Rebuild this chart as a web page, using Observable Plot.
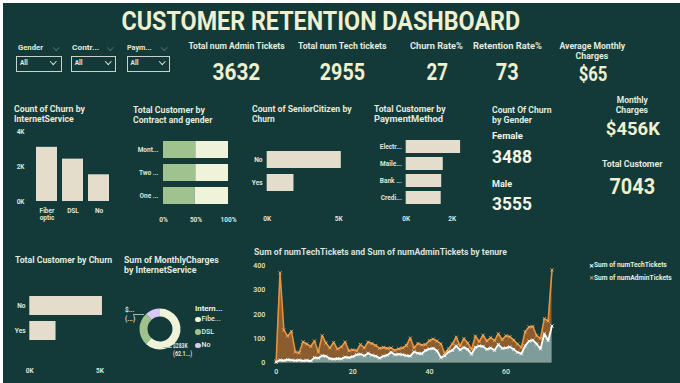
<!DOCTYPE html>
<html><head><meta charset="utf-8">
<script src="https://cdn.jsdelivr.net/npm/d3@7"></script>
<script src="https://cdn.jsdelivr.net/npm/@observablehq/plot@0.6"></script>
<style>
html,body{margin:0;padding:0;background:#fff;width:680px;height:383px;overflow:hidden}
#dash{position:absolute;left:3px;top:3px;width:677px;height:380px;background:#133a39}
#root{position:absolute;left:0;top:0;width:680px;height:383px;font-family:Roboto,"Noto Sans",sans-serif}
.t{position:absolute;white-space:nowrap;line-height:1}
.c{position:absolute}
.c svg{overflow:visible}
</style></head><body>
<div id="dash"></div><div id="root"></div>
<script>
// ---------------- DATA ----------------
const title = "CUSTOMER RETENTION DASHBOARD";
const slicerLabels = ["Gender", "Contr...", "Paym..."];
const slicerValue = "All";
const kpiLabels = ["Total num Admin Tickets", "Total num Tech tickets", "Churn Rate%", "Retention Rate%"];
const kpiValues = [3632, 2955, 27, 73];
const avgMonthlyCharges = 65;
const monthlyChargesK = 456;
const totalCustomers = 7043;
const churnGenderLabels = ["Female", "Male"];
const churnGenderValues = [3488, 3555];

const internetServices = ["Fiber optic", "DSL", "No"];
const churnCountByInternet = [3096, 2421, 1526];

const contracts = ["Month-to-month", "Two year", "One year"];
const contractTicks = ["Mont...", "Two ...", "One ..."];
const genders = ["Female", "Male"];
const contractFemale = [1925, 842, 718];
const contractMale = [1950, 853, 755];

const churnLabels = ["No", "Yes"];
const seniorCountByChurn = [5174, 1869];
const customersByChurn = [5174, 1869];

const paymentMethods = ["Electronic check", "Mailed check", "Bank transfer (automatic)", "Credit card (automatic)"];
const paymentTicks = ["Electr...", "Maile...", "Bank ...", "Credi..."];
const customersByPayment = [2365, 1612, 1544, 1522];

const monthlyByInternetK = [283, 120, 53];
const donutLegendTitle = "Intern...";
const donutLegendTicks = ["Fibe...", "DSL", "No"];
const donutLabelsFiber = ["$283K", "(62.1...)"];
const donutLabelsDSL = ["$...", "(...)"];

const tenure = [0,1,2,3,4,5,6,7,8,9,10,11,12,13,14,15,16,17,18,19,20,21,22,23,24,25,26,27,28,29,30,31,32,33,34,35,36,37,38,39,40,41,42,43,44,45,46,47,48,49,50,51,52,53,54,55,56,57,58,59,60,61,62,63,64,65,66,67,68,69,70,71,72];
const adminTickets = [8,370,135,110,130,45,42,87,78,68,90,45,112,82,62,84,57,66,86,50,54,50,76,62,86,80,72,60,64,60,62,52,58,62,72,102,62,80,74,76,92,98,90,78,40,58,78,106,70,100,82,56,110,88,114,90,104,92,120,96,112,108,94,78,64,128,148,150,112,100,182,172,382];
const techTickets = [3,12,10,14,12,10,12,9,11,8,22,20,30,28,18,16,18,17,24,22,26,34,36,30,40,32,28,20,28,32,44,34,36,34,30,28,46,40,38,52,58,60,50,22,30,46,52,70,54,64,56,36,64,70,68,56,62,52,76,60,62,66,56,44,38,70,90,94,78,58,120,92,152];
const seriesNames = ["Sum of numTechTickets", "Sum of numAdminTickets"];
const ticketChartTitle = "Sum of numTechTickets and Sum of numAdminTickets by tenure";

// ---------------- STYLE ----------------
const CREAM = "#eef0cf", LABEL = "#e3e9dc", BEIGE = "#e5ddcc", GREEN = "#9fc28f", PALE = "#eef3da", LAV = "#d8c8f2";
const ORANGE = "#e8913c", ORANGE_FILL = "#8a5c2e", TECH_FILL = "#7e9d9a";
const root = document.getElementById("root");

function txt(s, o) {
  const el = document.createElement("div");
  el.className = "t";
  el.textContent = s;
  el.style.fontSize = o.size + "px";
  el.style.fontWeight = o.weight ?? 700;
  el.style.color = o.color ?? LABEL;
  root.appendChild(el);
  const w = el.offsetWidth, h = el.offsetHeight;
  const mid = o.anchor === "middle";
  el.style.left = (mid ? o.x - w / 2 : o.x) + "px";
  el.style.top = (o.y - h / 2) + "px";
  el.style.transformOrigin = mid ? "50% 50%" : "0 50%";
  if (o.w) el.style.transform = `scaleX(${o.w / w})`;
  return el;
}
function box(l, t, w, h, css) {
  const d = document.createElement("div");
  d.className = "c";
  Object.assign(d.style, {left: l + "px", top: t + "px", width: w + "px", height: h + "px"}, css);
  root.appendChild(d);
  return d;
}
function chevron(x, y, color) {
  box(x - 2, y - 3.5, 3.5, 3.5, {borderRight: `1px solid ${color}`, borderBottom: `1px solid ${color}`, transform: "rotate(45deg)"});
}
function addPlot(plot, left, top) {
  const d = document.createElement("div");
  d.className = "c"; d.style.left = left + "px"; d.style.top = top + "px";
  d.appendChild(plot); root.appendChild(d);
}
const pstyle = {background: "transparent", color: "#dfe6d9", fontFamily: "Roboto, sans-serif", fontSize: "6.5px", fontWeight: "700", overflow: "visible"};
const fmtK = d => d / 1000 + "K";

// ---------------- HEADER ----------------
txt(title, {x: 321, y: 21.5, w: 399, size: 25, color: CREAM, anchor: "middle"});
const slX = [18.2, 71.6, 127], slW = [25.2, 27.3, 24.8], boxX = [16, 70.7, 126.6], boxW = [45.6, 45.5, 43.8];
slicerLabels.forEach((s, i) => {
  txt(s, {x: slX[i], y: 48, w: slW[i], size: 7, color: LABEL});
  chevron(boxX[i] + boxW[i] - 6, 48, "#4d6e69");
  box(boxX[i], 56, boxW[i] - 2, 13.5, {border: "1px solid #c9d2c8"});
  txt(slicerValue, {x: boxX[i] + 4, y: 63.3, w: 8, size: 6.5, color: LABEL});
  chevron(boxX[i] + boxW[i] - 8.5, 62.5, "#dfe6d9");
});
const kX = [236, 342.4, 436.8, 507.4], kLW = [96, 89, 53, 69], kVW = [48, 45.5, 21.2, 22.6];
kpiLabels.forEach((s, i) => {
  txt(s, {x: kX[i], y: 46.5, w: kLW[i], size: 8.5, color: LABEL, anchor: "middle"});
  txt(String(kpiValues[i]), {x: kX[i], y: 72, w: kVW[i], size: 23, color: CREAM, anchor: "middle"});
});
txt("Average Monthly", {x: 592.4, y: 46.5, w: 66, size: 8.5, anchor: "middle"});
txt("Charges", {x: 592.4, y: 56.5, w: 33, size: 8.5, anchor: "middle"});
txt("$" + avgMonthlyCharges, {x: 592.8, y: 74.5, w: 28.6, size: 21, color: CREAM, anchor: "middle"});

// right KPI column
txt("Monthly", {x: 632.2, y: 100.7, w: 31, size: 8.5, anchor: "middle"});
txt("Charges", {x: 632.4, y: 110.7, w: 32.7, size: 8.5, anchor: "middle"});
txt("$" + monthlyChargesK + "K", {x: 632.8, y: 128.5, w: 54.3, size: 19, color: CREAM, anchor: "middle"});
txt("Total Customer", {x: 632, y: 164.3, w: 60, size: 8.5, anchor: "middle"});
txt(String(totalCustomers), {x: 632, y: 186.7, w: 46, size: 22, color: CREAM, anchor: "middle"});

txt("Count Of Churn", {x: 492, y: 110, w: 59.7, size: 8.5});
txt("by Gender", {x: 492, y: 120, w: 40.3, size: 8.5});
txt(churnGenderLabels[0], {x: 492, y: 136.3, w: 30.7, size: 9.5, color: "#f2f4e6"});
txt(String(churnGenderValues[0]), {x: 492, y: 156.5, w: 40.3, size: 19, color: "#f2f4e6"});
txt(churnGenderLabels[1], {x: 492, y: 184, w: 20, size: 9.5, color: "#f2f4e6"});
txt(String(churnGenderValues[1]), {x: 492, y: 203.8, w: 40.3, size: 19, color: "#f2f4e6"});

// chart titles
txt("Count of Churn by", {x: 14, y: 109.3, w: 71, size: 8.5});
txt("InternetService", {x: 14, y: 119.5, w: 60, size: 8.5});
txt("Total Customer by", {x: 132.7, y: 110, w: 72.3, size: 8.5});
txt("Contract and gender", {x: 132.7, y: 120.2, w: 79.6, size: 8.5});
txt("Count of SeniorCitizen by", {x: 252.3, y: 109, w: 99.4, size: 8.5});
txt("Churn", {x: 252.3, y: 119.2, w: 22.7, size: 8.5});
txt("Total Customer by", {x: 374, y: 109, w: 72, size: 8.5});
txt("PaymentMethod", {x: 374, y: 119.2, w: 69, size: 8.5});
txt("Total Customer by Churn", {x: 14.7, y: 260.7, w: 97.6, size: 8.5});
txt("Sum of MonthlyCharges", {x: 124, y: 260.7, w: 94.3, size: 8.5});
txt("by InternetService", {x: 124, y: 270.9, w: 72.7, size: 8.5});
txt(ticketChartTitle, {x: 254, y: 252.5, w: 253, size: 8.5, color: "#d9e1dc"});

// ---------------- CHARTS ----------------
// 1. Count of Churn by InternetService
addPlot(Plot.plot({
  width: 105, height: 100, marginLeft: 20, marginRight: 0, marginTop: 6, marginBottom: 24,
  style: pstyle,
  x: {domain: internetServices, padding: 0.2},
  y: {domain: [0, 4000]},
  marks: [
    Plot.barY(internetServices.map((s, i) => ({s, v: churnCountByInternet[i]})), {x: "s", y: "v", fill: BEIGE}),
    Plot.axisY({ticks: [0, 2000, 4000], tickFormat: fmtK, tickSize: 0, tickPadding: 6, label: null}),
    Plot.axisX({tickSize: 0, tickPadding: 7, tickFormat: d => d.replace(" ", "\n"), label: null})
  ]
}), 10, 125);

// 2. Total Customer by Contract and gender
const contractRows = contracts.flatMap((c, i) => [{c, g: genders[0], v: contractFemale[i]}, {c, g: genders[1], v: contractMale[i]}]);
addPlot(Plot.plot({
  width: 105, height: 100, marginLeft: 35, marginRight: 5, marginTop: 7, marginBottom: 22.5,
  style: pstyle,
  x: {domain: [0, 1]},
  y: {domain: contracts, paddingInner: 0.25, paddingOuter: 0.125},
  color: {domain: genders, range: [GREEN, PALE]},
  marks: [
    Plot.barX(contractRows, Plot.stackX({offset: "normalize", x: "v", y: "c", fill: "g"})),
    Plot.axisY({tickSize: 0, tickPadding: 5, tickFormat: d => contractTicks[contracts.indexOf(d)], label: null}),
    Plot.axisX({ticks: [0, 0.5, 1], tickFormat: d3.format(".0%"), tickSize: 0, tickPadding: 9.7, label: null})
  ]
}), 128, 130);

// 3. Count of SeniorCitizen by Churn
addPlot(Plot.plot({
  width: 105, height: 85, marginLeft: 21.7, marginRight: 11.7, marginTop: 8, marginBottom: 31,
  style: pstyle,
  x: {domain: [0, 5000]},
  y: {domain: churnLabels, paddingInner: 0.26, paddingOuter: 0.13},
  marks: [
    Plot.barX(churnLabels.map((s, i) => ({s, v: seniorCountByChurn[i]})), {y: "s", x: "v", fill: BEIGE}),
    Plot.axisY({tickSize: 0, tickPadding: 4.7, label: null}),
    Plot.axisX({ticks: [0, 5000], tickFormat: fmtK, tickSize: 0, tickPadding: 21.8, label: null})
  ]
}), 245, 140);

// 4. Total Customer by PaymentMethod
addPlot(Plot.plot({
  width: 100, height: 97, marginLeft: 35.7, marginRight: 9.1, marginTop: 8.1, marginBottom: 17.7,
  style: pstyle,
  x: {domain: [0, 2400]},
  y: {domain: paymentMethods, paddingInner: 0.25, paddingOuter: 0.125},
  marks: [
    Plot.barX(paymentMethods.map((s, i) => ({s, v: customersByPayment[i]})), {y: "s", x: "v", fill: BEIGE}),
    Plot.axisY({tickSize: 0, tickPadding: 4.4, tickFormat: d => paymentTicks[paymentMethods.indexOf(d)], label: null}),
    Plot.axisX({ticks: [0, 2000], tickFormat: fmtK, tickSize: 0, tickPadding: 8.5, label: null})
  ]
}), 370, 128);

// 5. Total Customer by Churn
addPlot(Plot.plot({
  width: 105, height: 93, marginLeft: 24.3, marginRight: 10.5, marginTop: 7.7, marginBottom: 34.7,
  style: pstyle,
  x: {domain: [0, 5000]},
  y: {domain: churnLabels, paddingInner: 0.24, paddingOuter: 0.12},
  marks: [
    Plot.barX(churnLabels.map((s, i) => ({s, v: customersByChurn[i]})), {y: "s", x: "v", fill: BEIGE}),
    Plot.axisY({tickSize: 0, tickPadding: 4.3, label: null}),
    Plot.axisX({ticks: [0, 5000], tickFormat: fmtK, tickSize: 0, tickPadding: 24.2, label: null})
  ]
}), 5, 285);

// 6. Donut: Sum of MonthlyCharges by InternetService
const donutColors = [PALE, GREEN, LAV];
function donutMark(index, scales, values, dim) {
  const W = dim?.width ?? 90, H = dim?.height ?? 60;
  const g = d3.create("svg:g").attr("transform", `translate(${W / 2},${H / 2})`);
  const arcs = d3.pie().sort(null)(monthlyByInternetK);
  const arc = d3.arc().innerRadius(12.5).outerRadius(20.5);
  g.selectAll("path").data(arcs).join("path").attr("d", arc).attr("fill", (d, i) => donutColors[i]);
  return g.node();
}
addPlot(Plot.plot({width: 90, height: 60, margin: 0, style: pstyle, marks: [donutMark]}), 115, 299.3);
txt(donutLabelsDSL[0], {x: 125, y: 310, size: 6.5, color: "#dfe6d9"});
txt(donutLabelsDSL[1], {x: 125, y: 319, size: 6.5, color: "#dfe6d9"});
box(133, 313.5, 11, 0.8, {background: "#a9b7b0"});
txt(donutLabelsFiber[0], {x: 172.5, y: 346.5, w: 14.5, size: 6.5, color: "#dfe6d9"});
txt(donutLabelsFiber[1], {x: 172.5, y: 354.5, w: 19, size: 6.5, color: "#dfe6d9"});
box(162.5, 347, 9, 0.8, {background: "#a9b7b0"});
txt(donutLegendTitle, {x: 194.5, y: 308.5, w: 27, size: 7.5, color: "#f2f4ea"});
const legY = [319.5, 332.2, 345.5];
donutLegendTicks.forEach((s, i) => {
  box(195, legY[i] - 2.8, 5.6, 5.6, {background: donutColors[i], borderRadius: "50%"});
  txt(s, {x: 201.5, y: legY[i], size: 7, weight: 500, color: "#e8eedf"});
});

// 7. Tickets by tenure
const ticketRows = tenure.map((t, i) => ({t, admin: adminTickets[i], tech: techTickets[i]}));
addPlot(Plot.plot({
  width: 315, height: 120, marginLeft: 30.7, marginRight: 8.5, marginTop: 7, marginBottom: 15.5,
  style: {...pstyle, fontSize: "7px", fontWeight: "500"},
  x: {domain: [0, 72]},
  y: {domain: [0, 400]},
  marks: [
    Plot.areaY(ticketRows, {x: "t", y: "admin", fill: ORANGE_FILL}),
    Plot.areaY(ticketRows, {x: "t", y: "tech", fill: TECH_FILL}),
    Plot.lineY(ticketRows, {x: "t", y: "admin", stroke: ORANGE, strokeWidth: 1.6}),
    Plot.lineY(ticketRows, {x: "t", y: "tech", stroke: "#ffffff", strokeWidth: 1.8}),
    Plot.dot(ticketRows, {x: "t", y: "admin", symbol: "times", r: 1.6, stroke: "#f3b06c", strokeWidth: 0.8}),
    Plot.dot(ticketRows, {x: "t", y: "tech", symbol: "times", r: 1.6, stroke: "#ffffff", strokeWidth: 0.8}),
    Plot.axisY({ticks: [0, 100, 200, 300, 400], tickSize: 0, tickPadding: 11, label: null}),
    Plot.axisX({ticks: [0, 20, 40, 60], tickSize: 0, tickPadding: 6, label: null})
  ]
}), 245, 258);
txt("✕", {x: 589, y: 265.5, size: 6, color: "#ffffff"});
txt(seriesNames[0], {x: 593.5, y: 265.5, w: 72.5, size: 6.5, color: "#e8eedf"});
txt("✕", {x: 589, y: 278.3, size: 6, color: ORANGE});
txt(seriesNames[1], {x: 593.7, y: 278.3, w: 77.6, size: 6.5, color: "#e8eedf"});
</script></body></html>
